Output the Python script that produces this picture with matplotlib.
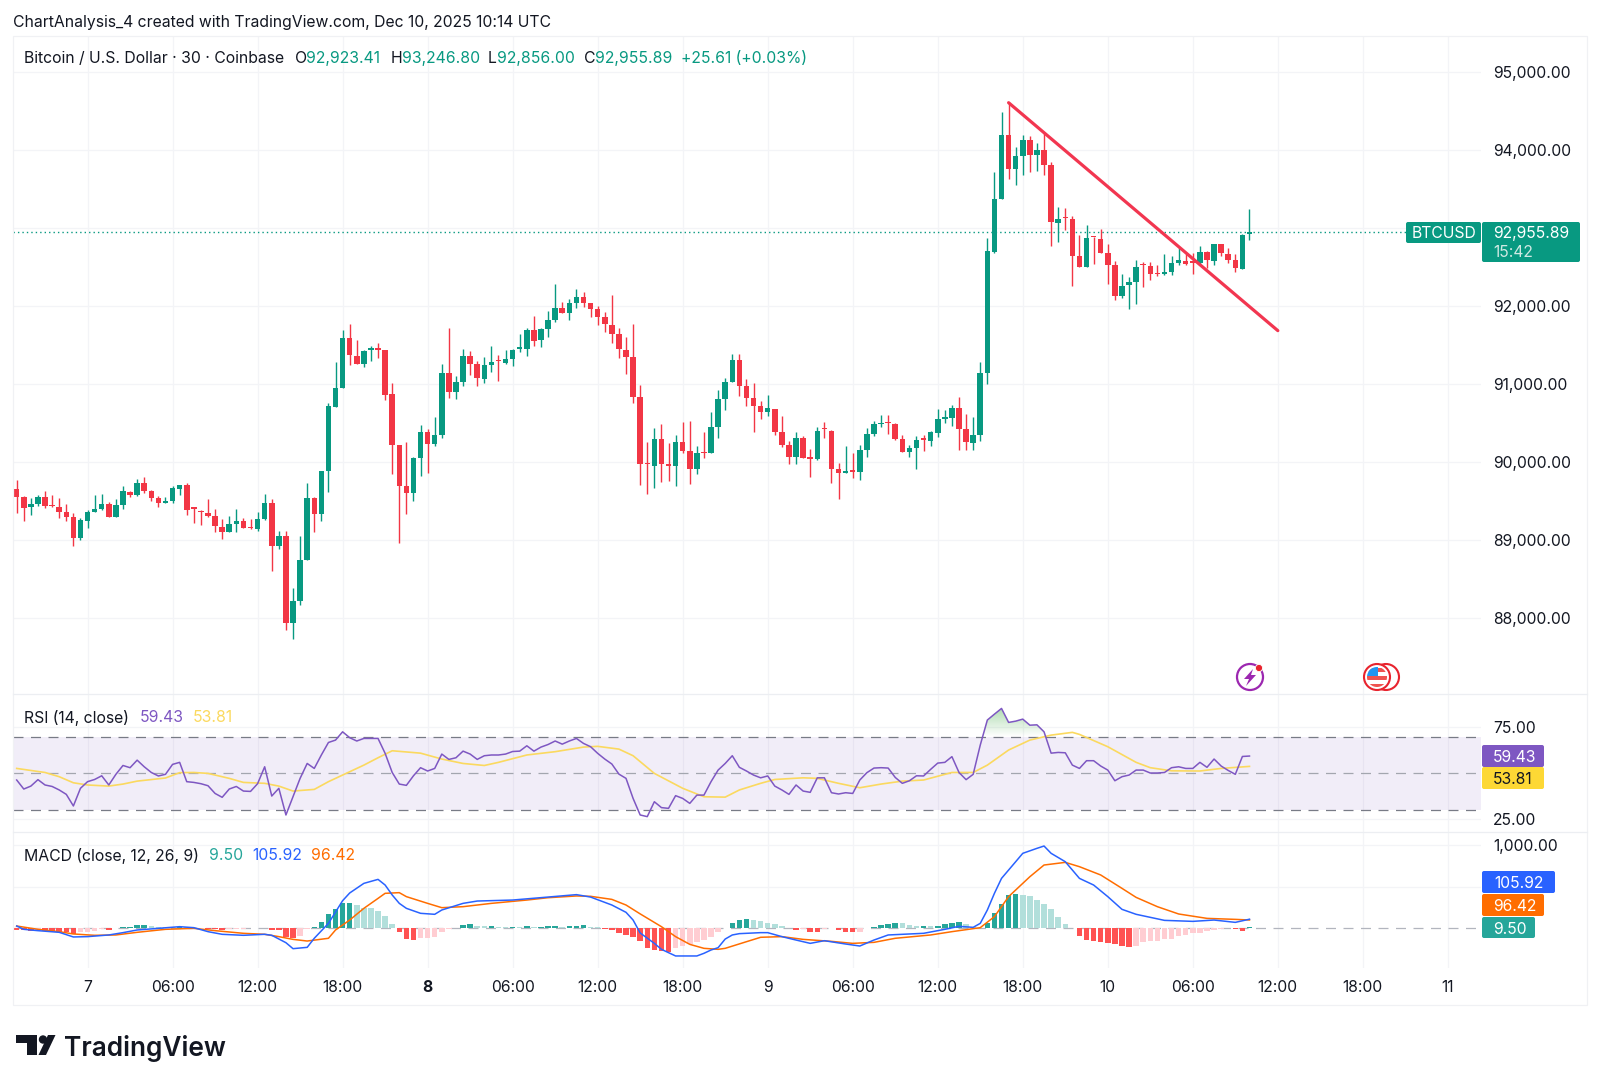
import matplotlib
matplotlib.use("Agg")
import matplotlib.pyplot as plt
from matplotlib.patches import Circle, FancyBboxPatch, Polygon, Rectangle
from matplotlib.path import Path
import numpy as np

opens = [
    89660,89560,89424,89466,89560,89453,89432,89364,89295,89031,
    89250,89368,89398,89466,89295,89453,89620,89580,89740,89630,
    89543,89475,89505,89663,89714,89415,89377,89355,89312,89176,
    89112,89214,89244,89172,89150,89278,89483,88928,89052,87946,
    88228,88749,89543,89338,89893,90715,90950,91588,91365,91263,
    91442,91455,91442,90873,90218,89692,89606,90051,90385,90231,
    90347,91151,90907,91027,91365,91258,91070,91245,91305,91271,
    91323,91455,91455,91699,91562,91708,91828,91977,91909,92046,
    92119,92038,91965,91862,91763,91643,91442,91348,90835,89987,
    89957,90295,89974,89949,90256,90141,89915,90128,90115,90453,
    90807,91025,91307,90978,90828,90717,90645,90683,90384,90226,
    90068,90307,90073,90043,90431,90406,89915,89863,89902,89872,
    90158,90359,90491,90512,90491,90295,90137,90184,90303,90273,
    90380,90555,90572,90696,90421,90250,90353,91150,92697,93370,
    94197,93764,93927,94137,93940,94009,93812,93074,93139,93113,
    92650,92504,92890,92869,92684,92534,92127,92269,92316,92539,
    92513,92419,92410,92444,92552,92586,92569,92552,92702,92586,
    92796,92676,92599,92479,92923.41]
highs = [
    89770,89570,89540,89580,89630,89580,89540,89462,89350,89283,
    89390,89580,89594,89496,89535,89697,89637,89782,89808,89646,
    89569,89552,89697,89714,89740,89432,89390,89535,89406,89270,
    89312,89406,89287,89274,89364,89594,89526,89125,89125,88394,
    89056,89731,89552,89885,90756,91280,91691,91768,91562,91442,
    91494,91528,91442,91014,90223,90261,90073,90475,90432,90586,
    91263,91721,91109,91451,91430,91301,91348,91485,91374,91442,
    91451,91648,91721,91879,91716,91939,92281,92059,92093,92221,
    92187,92038,92007,91926,92140,91721,91601,91776,90993,90257,
    90436,90487,90243,90354,90517,90525,90205,90389,90641,90922,
    91076,91392,91383,91063,91021,90790,90858,90683,90594,90278,
    90384,90337,90167,90457,90512,90414,89987,90214,90124,90226,
    90436,90529,90611,90611,90500,90354,90222,90337,90354,90406,
    90687,90666,90734,90841,90619,90576,91287,92877,93722,94493,
    94622,94047,94197,94185,94099,94227,93850,93276,93254,93156,
    92916,93044,92890,92993,92804,92577,92419,92372,92590,92564,
    92569,92534,92676,92642,92744,92667,92680,92779,92710,92800,
    92804,92753,92676,92933,93246.8]
lows = [
    89350,89250,89325,89440,89410,89424,89291,89250,88928,89005,
    89159,89368,89390,89295,89295,89398,89552,89569,89611,89500,
    89432,89475,89483,89586,89325,89219,89193,89295,89112,89022,
    89112,89112,89163,89150,89125,89261,88612,88894,87852,87733,
    88177,88749,89112,89253,89624,90706,90950,91245,91263,91220,
    91297,91331,90800,89846,88962,89332,89508,89829,89863,90214,
    90308,90830,90813,90972,91113,90984,91023,91160,91036,91263,
    91237,91408,91357,91494,91477,91605,91798,91909,91828,91973,
    91990,91862,91759,91673,91528,91331,91130,90758,89713,89593,
    89675,89744,89761,89693,90115,89722,89851,90051,90115,90312,
    90675,91025,90854,90726,90389,90555,90598,90354,90201,89974,
    89979,90051,89812,90030,90307,89735,89530,89863,89804,89778,
    90073,90337,90457,90363,90286,90137,90064,89915,90145,90209,
    90320,90500,90465,90158,90156,90156,90276,91000,92684,93370,
    93627,93550,93679,93722,93734,93679,92779,92822,92976,92256,
    92504,92504,92547,92680,92290,92080,92106,91969,92033,92247,
    92342,92384,92397,92397,92526,92526,92410,92543,92492,92530,
    92642,92552,92444,92479,92856]
closes = [
    89560,89415,89466,89560,89440,89440,89368,89295,89035,89261,
    89368,89398,89466,89295,89453,89629,89586,89740,89630,89543,
    89483,89509,89667,89705,89390,89406,89360,89308,89180,89112,
    89210,89244,89163,89155,89278,89483,88928,89052,87946,88228,
    88749,89539,89342,89885,90722,90950,91588,91370,91263,91430,
    91455,91442,90869,90223,89696,89606,90051,90385,90240,90347,
    91147,90907,91027,91365,91258,91079,91245,91284,91293,91323,
    91442,91468,91699,91558,91708,91828,91977,91909,92046,92119,
    92042,91969,91862,91768,91639,91451,91352,90835,89979,89974,
    90295,89974,89949,90256,90149,89915,90115,90115,90453,90807,
    91029,91307,90978,90828,90717,90645,90692,90389,90226,90068,
    90307,90060,90043,90406,90423,89915,89863,89893,89872,90158,
    90367,90487,90508,90504,90295,90137,90184,90286,90290,90389,
    90559,90576,90696,90427,90263,90353,91150,92706,93370,94197,
    93764,93927,94137,93940,94000,93812,93079,93122,93126,92642,
    92504,92877,92882,92680,92534,92127,92264,92316,92509,92530,
    92419,92410,92440,92552,92590,92547,92560,92697,92590,92800,
    92680,92599,92496,92920,92955.89]

# trendline drawn on the chart, bar index and price
trend_x = [140, 178]
trend_y = [94610, 91688]
last_price = 92955.89

rsi = [
    46.4,41.5,43.1,46.6,43.7,42.9,41.0,38.6,32.3,41.9,
    45.5,46.7,48.7,43.7,49.5,54.3,53.1,57.2,53.6,50.5,
    48.6,49.5,54.9,56.0,45.5,45.1,44.4,43.3,39.1,37.0,
    41.5,42.9,40.4,40.2,44.4,53.6,37.7,41.9,27.4,37.3,
    47.3,55.4,52.7,60.0,66.8,68.1,72.6,69.4,67.6,69.0,
    69.0,69.0,60.9,50.5,44.2,43.5,48.7,53.1,51.3,52.7,
    60.5,57.6,58.5,62.1,60.5,57.6,59.6,60.0,60.0,60.5,
    61.9,62.1,65.0,62.1,64.3,65.7,67.6,65.9,67.6,69.0,
    66.3,64.5,60.9,57.8,55.1,49.6,47.3,36.4,27.4,26.5,
    34.6,31.4,31.0,37.9,36.4,33.7,38.2,38.2,45.5,51.8,
    55.4,59.6,53.3,51.3,49.1,47.6,48.6,43.1,41.0,38.6,
    43.7,40.4,39.7,47.6,47.6,39.5,38.8,39.5,39.1,46.4,
    50.4,52.9,53.1,52.9,47.8,44.6,46.0,48.7,48.6,52.2,
    55.6,56.0,59.1,50.5,46.6,49.5,65.4,79.0,82.2,85.3,
    77.7,78.4,79.5,76.2,76.4,72.6,61.0,61.4,61.2,54.5,
    52.7,56.9,56.9,54.0,51.8,46.0,48.2,49.1,51.8,51.8,
    50.2,50.2,50.5,53.1,53.6,52.7,52.7,56.0,53.3,57.8,
    54.0,51.6,49.5,59.2,59.43]
rsi_ma_x = [0,2,4,6,8,10,13,15,17,21,23,25,27,30,32,35,37,39,42,44,47,49,51,53,57,60,63,66,68,72,76,80,82,85,
            87,90,94,97,100,102,105,107,111,113,116,119,122,125,128,132,135,137,140,143,146,149,150,154,158,160,163,167,170,174]
rsi_ma = [52.7,51.6,50.5,48.2,44.9,43.7,43.1,44.2,45.8,47.5,50.4,50.5,50.0,47.3,45.1,44.6,43.1,40.4,41.3,45.5,50.9,54.5,58.5,62.3,61.0,57.8,55.4,54.3,56.0,60.0,61.8,64.3,64.7,63.2,
          59.6,50.0,41.9,37.3,37.1,41.0,44.6,46.7,47.6,47.3,44.6,42.2,44.2,45.8,46.4,50.5,50.5,54.5,62.7,68.1,70.8,72.3,71.2,64.5,56.0,53.1,51.4,51.3,52.7,53.81]

macd_hist = [
    -22,-30,-36,-28,-36,-42,-46,-50,-68,-46,
    -44,-32,-18,-22,-4,8,16,32,36,28,
    16,12,10,14,8,4,-4,-12,-16,-24,
    -16,-12,-8,-4,2,6,-20,-24,-112,-124,
    -96,-12,8,76,164,224,296,304,280,244,
    243,208,144,44,-52,-136,-144,-124,-120,-104,
    -44,-8,4,36,48,24,20,20,16,12,
    16,8,24,12,18,20,22,16,28,30,
    32,16,8,-16,-28,-56,-84,-104,-152,-236,
    -264,-276,-290,-245,-217,-197,-165,-145,-104,-52,
    -4,56,100,108,96,80,56,48,20,4,
    -28,-12,-48,-52,-12,-4,-28,-48,-50,-44,
    -4,16,32,52,64,56,36,24,26,24,
    28,48,56,68,44,8,4,56,184,289,
    397,410,401,385,337,289,229,128,44,4,
    -92,-149,-157,-165,-185,-193,-221,-229,-213,-169,
    -161,-153,-137,-129,-92,-80,-64,-56,-40,-24,
    -12,-4,-16,-32,9.5]

macd_x = [0,1,3,6,8,10,13,15,17,20,23,25,27,29,32,35,36,38,39,41,42,44,46,47,49,51,52,53,54,55,57,59,60,63,65,70,75,79,81,84,86,87,88,
          90,91,93,96,97,98,99,100,101,102,105,106,108,110,112,114,117,119,121,123,125,128,131,133,135,136,137,138,139,141,142,144,145,146,148,150,152,154,156,158,162,166,169,172,174]
macd_line = [24,-16,-32,-52,-108,-104,-84,-56,-24,-4,16,4,-44,-76,-88,-76,-88,-177,-249,-233,-124,56,329,422,538,586,518,398,297,237,177,165,217,297,325,337,373,402,373,277,189,96,-60,
             -185,-257,-337,-337,-305,-265,-237,-133,-84,-68,-56,-56,-104,-145,-185,-153,-193,-217,-145,-84,-76,-64,-16,20,8,56,217,418,598,799,900,960,988,900,799,598,518,378,225,165,92,80,96,68,105.92]
signal_x = [0,3,6,8,11,14,17,21,25,28,32,35,37,39,41,44,45,47,49,51,52,54,55,58,60,63,67,72,75,79,81,84,86,88,
            91,93,95,97,99,100,103,105,108,111,115,118,121,124,129,132,136,138,140,143,145,148,150,153,156,158,161,164,168,172,174]
signal_line = [24,-16,-44,-72,-88,-84,-52,-16,-4,-32,-64,-76,-104,-137,-157,-124,-24,96,237,357,418,426,378,297,245,257,297,337,365,386,382,345,277,170,
               16,-104,-197,-245,-257,-245,-165,-112,-104,-137,-161,-185,-173,-124,-84,-44,4,137,378,618,759,791,739,639,478,369,257,169,116,104,96.42]

tick_bars = [10,22,34,46,58,70,82,94,106,118,130,142,154,166,178,190,202]
tick_labels = ["7","06:00","12:00","18:00","8","06:00","12:00","18:00","9","06:00","12:00","18:00","10","06:00","12:00","18:00","11"]
price_ticks = [88000,89000,90000,91000,92000,93000,94000,95000]

GREEN = "#089981"
RED = "#f23645"
GRID = "#f3f4f7"
W, H = 1600, 1085
plt.rcParams["font.family"] = ["Inter", "DejaVu Sans"]

fig = plt.figure(figsize=(16, 10.85), dpi=100, facecolor="white")

# bar index <-> pixel: x = 16.7 + 7.085 * i
xlim = ((13 - 16.7) / 7.085, (1481 - 16.7) / 7.085)


def pane(y0, y1, ylim):
    ax = fig.add_axes([13 / W, 1 - y1 / H, (1481 - 13) / W, (y1 - y0) / H])
    ax.set_xlim(xlim)
    ax.set_ylim(ylim)
    for s in ax.spines.values():
        s.set_visible(False)
    ax.patch.set_alpha(0)
    ax.set_xticks(tick_bars)
    ax.tick_params(length=0, labelbottom=False, labelleft=False, labelright=True, right=False,
                   left=False, labelsize=11.3, labelcolor="#131722", pad=8.6)
    ax.yaxis.tick_right()
    ax.grid(True, color=GRID, lw=0.9)
    ax.set_axisbelow(True)
    return ax


# price pane, the 93,000 label sits behind the price tag so it stays empty
ax = pane(36, 694, (87030, 95465))
ax.set_yticks(price_ticks)
ax.set_yticklabels(["" if p == 93000 else f"{p:,.2f}" for p in price_ticks])
x = np.arange(len(closes))
o, h, l, c = map(np.array, (opens, highs, lows, closes))
colors = [GREEN if c[i] >= o[i] else RED for i in x]
ax.vlines(x, l, h, colors=colors, lw=1.0, zorder=2)
ax.bar(x, np.maximum(np.abs(c - o), 18), bottom=np.minimum(o, c), width=0.78, color=colors, lw=0, zorder=3)
ax.plot([xlim[0], (1406 - 16.7) / 7.085], [last_price, last_price], color=GREEN, lw=1.0, ls=(0, (1, 2.2)), zorder=1)
ax.plot(trend_x, trend_y, color="#f23650", lw=2.3, solid_capstyle="round", zorder=4)

# RSI pane
ax2 = pane(694, 832, (18.15, 93.15))
ax2.set_yticks([25, 75])
ax2.set_yticklabels(["25.00", "75.00"])
ax2.axhspan(30, 70, color="#7e57c2", alpha=0.1, lw=0)
for lev, col in ((70, "#787b86"), (50, "#a3a6af"), (30, "#787b86")):
    ax2.axhline(lev, color=col, lw=0.9, ls=(0, (8, 6)))
fill = ax2.fill_between(x, rsi, 70, where=np.array(rsi) >= 70, interpolate=True, color="none", lw=0)
grad = np.zeros((64, 1, 4))
grad[..., :3] = matplotlib.colors.to_rgb("#4caf50")
grad[:, 0, 3] = np.linspace(0.45, 0.0, 64)
im = ax2.imshow(grad, extent=(0, 174, 70, 86), aspect="auto", zorder=1)
im.set_clip_path(Path.make_compound_path(*fill.get_paths()), transform=ax2.transData)
ax2.set_xlim(xlim)
ax2.set_ylim(18.15, 93.15)
ax2.plot(rsi_ma_x, rsi_ma, color="#fbd95f", lw=1.2, zorder=3)
ax2.plot(x, rsi, color="#7e57c2", lw=1.1, zorder=4)

# MACD pane
ax3 = pane(832, 968, (-482, 1157))
ax3.set_yticks([500, 1000])
ax3.set_yticklabels(["", "1,000.00"])
ax3.axhline(0, color="#b2b5be", lw=0.9, ls=(0, (8, 6)), zorder=1)
hist_colors = []
for i, v in enumerate(macd_hist):
    prev = macd_hist[i - 1] if i else v
    if v >= 0:
        hist_colors.append("#26a69a" if v >= prev else "#b2dfdb")
    else:
        hist_colors.append("#ff5252" if v <= prev else "#ffcdd2")
ax3.bar(x, macd_hist, width=0.78, color=hist_colors, lw=0, zorder=2)
ax3.plot(signal_x, signal_line, color="#ff6d00", lw=1.1, zorder=3)
ax3.plot(macd_x, macd_line, color="#2962ff", lw=1.1, zorder=4)
ax3.tick_params(labelbottom=True)
ax3.set_xticklabels(tick_labels, fontsize=11.3, color="#131722")
ax3.tick_params(axis="x", pad=9)
ax3.get_xticklabels()[4].set_fontweight("bold")

# overlay in pixels for frame, labels, tags and icons
ov = fig.add_axes([0, 0, 1, 1], zorder=10)
ov.set_xlim(0, W)
ov.set_ylim(H, 0)
ov.axis("off")
ov.patch.set_alpha(0)
ov.add_patch(Rectangle((13, 36), 1574, 969, fill=False, ec="#f0f1f4", lw=0.9))
ov.plot([13, 1587], [694, 694], color="#eceef2", lw=0.9)
ov.plot([13, 1587], [832, 832], color="#eceef2", lw=0.9)


def label(px, py, s, color="#131722", size=11.35, **kw):
    ov.text(px, py, s, color=color, fontsize=size, va="center_baseline", ha="left", **kw)


def tag(x0, y0, x1, y1, color):
    ov.add_patch(FancyBboxPatch((x0 + 1, y0 + 1), x1 - x0 - 2, y1 - y0 - 2, boxstyle="round,pad=1,rounding_size=2",
                                fc=color, ec="none"))


label(13, 21, "ChartAnalysis_4 created with TradingView.com, Dec 10, 2025 10:14 UTC")
label(24, 57, "Bitcoin / U.S. Dollar · 30 · Coinbase")
for px, s, col in ((295, "O", "#131722"), (306, "92,923.41", GREEN), (391, "H", "#131722"), (402, "93,246.80", GREEN),
                   (488, "L", "#131722"), (497, "92,856.00", GREEN), (584, "C", "#131722"), (595, "92,955.89", GREEN),
                   (681, "+25.61 (+0.03%)", GREEN)):
    label(px, 57, s, col)
label(24, 716, "RSI (14, close)")
label(140, 716, "59.43", "#7e57c2")
label(193, 716, "53.81", "#fbd95f")
label(24, 854, "MACD (close, 12, 26, 9)")
label(209, 854, "9.50", "#26a69a")
label(252, 854, "105.92", "#2962ff")
label(311, 854, "96.42", "#ff6d00")

tag(1406, 222, 1481, 243, GREEN)
tag(1482, 222, 1580, 262, GREEN)
label(1412, 232, "BTCUSD", "white", 11.3)
label(1493, 232, "92,955.89", "white", 11.3)
label(1493, 251, "15:42", "#cfe9e3", 11.3)
tag(1482, 745, 1544, 767, "#7e57c2")
tag(1482, 767, 1544, 789, "#fdd835")
label(1493, 756, "59.43", "white", 11.3)
label(1493, 778, "53.81", "#131722", 11.3)
tag(1482, 871, 1555, 893, "#2962ff")
tag(1482, 894, 1544, 916, "#ff6d00")
tag(1482, 917, 1535, 938, "#26a69a")
label(1494, 882, "105.92", "white", 11.3)
label(1493, 905, "96.42", "white", 11.3)
label(1493, 928, "9.50", "white", 11.3)

# event icons
ov.add_patch(Circle((1250, 677), 13, fc="white", ec="#9c27b0", lw=1.6))
ov.add_patch(Polygon([(1253, 669), (1244, 679), (1249, 679), (1246, 686), (1256, 675), (1251, 675)], fc="#9c27b0", ec="none"))
ov.add_patch(Circle((1259, 668), 3.6, fc="#e8232e", ec="white", lw=0.6))
ov.add_patch(Circle((1386, 677), 13, fc="white", ec="#e8232e", lw=1.5))
ov.add_patch(Circle((1377, 677), 13, fc="white", ec="#e8232e", lw=1.5))
for sy in (668, 676, 684):
    ov.add_patch(Rectangle((1366, sy), 22, 4, fc="#ef5350", ec="none", clip_path=Circle((1377, 677), 10, transform=ov.transData)))
ov.add_patch(Rectangle((1367, 666), 11, 10, fc="#2196f3", ec="none", clip_path=Circle((1377, 677), 10, transform=ov.transData)))

# logo
ov.add_patch(Polygon([(16, 1035), (37, 1035), (37, 1055), (27, 1055), (27, 1043), (16, 1043)], fc="#131722", ec="none"))
ov.add_patch(Circle((43, 1039.5), 4.2, fc="#131722", ec="none"))
ov.add_patch(Polygon([(38.5, 1055), (46, 1055), (55.5, 1035), (48, 1035)], fc="#131722", ec="none"))
ov.text(64, 1046, "TradingView", fontsize=18.9, fontweight="semibold", color="#131722", va="center_baseline", ha="left")

fig.savefig("out.png", dpi=100, facecolor="white")
